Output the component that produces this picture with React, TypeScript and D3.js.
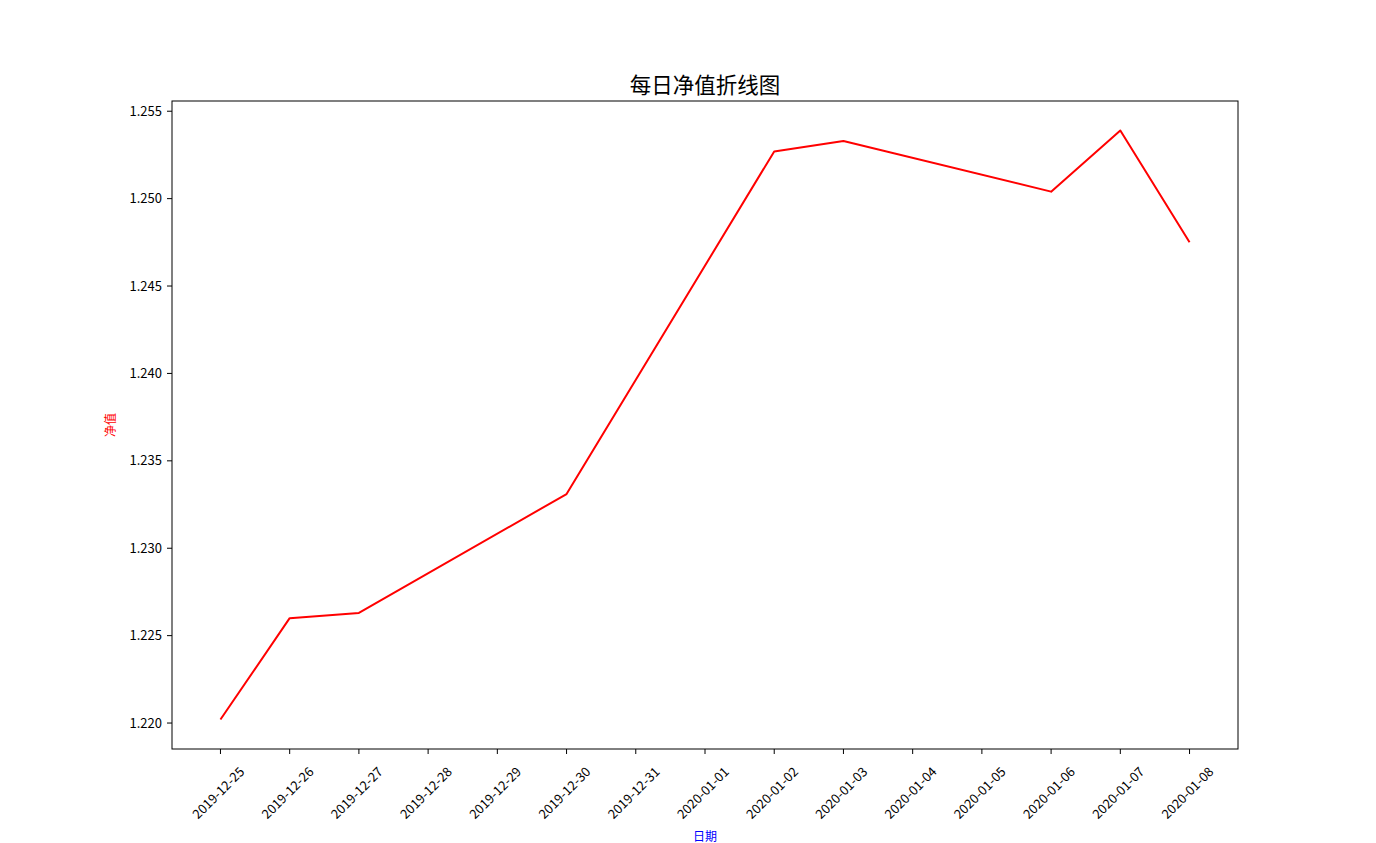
import React from "react";
import * as d3 from "d3";

const dates = ["2019-12-25", "2019-12-26", "2019-12-27", "2019-12-30", "2020-01-02", "2020-01-03", "2020-01-06", "2020-01-07", "2020-01-08"];
const values = [1.2202, 1.2260, 1.2263, 1.2331, 1.2527, 1.2533, 1.2504, 1.2539, 1.2475];
const yTicks = [1.22, 1.225, 1.23, 1.235, 1.24, 1.245, 1.25, 1.255];
const title = "每日净值折线图";
const xLabel = "日期";
const yLabel = "净值";

const W = 1376, H = 843;
const m = { left: 172, right: 1238, top: 101, bottom: 749 };
const FONT = "'Noto Sans CJK SC', 'Noto Sans', sans-serif";

export default function App() {
  const parse = d3.utcParse("%Y-%m-%d");
  const fmt = d3.utcFormat("%Y-%m-%d");
  const pts = dates.map((d, i) => ({ t: parse(d) as Date, v: values[i] }));
  const t0 = pts[0].t, t1 = pts[pts.length - 1].t;
  const span = +t1 - +t0;
  const x = d3.scaleUtc().domain([new Date(+t0 - span * 0.05), new Date(+t1 + span * 0.05)]).range([m.left, m.right]);
  const [vmin, vmax] = d3.extent(values) as [number, number];
  const pad = (vmax - vmin) * 0.05;
  const y = d3.scaleLinear().domain([vmin - pad, vmax + pad]).range([m.bottom, m.top]);
  const xTicks = d3.utcDay.range(t0, d3.utcDay.offset(t1, 1));
  const line = d3.line<{ t: Date; v: number }>().x(d => x(d.t)).y(d => y(d.v));

  return (
    <svg width={W} height={H} style={{ position: "absolute", left: 0, top: 0, background: "#fff" }} fontFamily={FONT}>
      <rect x={0} y={0} width={W} height={H} fill="#fff" />
      <text x={(m.left + m.right) / 2} y={93} textAnchor="middle" fontSize={21.5} fill="#000">{title}</text>
      <path d={line(pts) || ""} fill="none" stroke="#ff0000" strokeWidth={2} strokeLinejoin="round" />
      <rect x={m.left} y={m.top} width={m.right - m.left} height={m.bottom - m.top} fill="none" stroke="#000" strokeWidth={1} />
      {yTicks.map(t => (
        <g key={t}>
          <line x1={m.left - 5} x2={m.left} y1={y(t)} y2={y(t)} stroke="#000" />
          <text x={m.left - 10} y={y(t)} dy="0.35em" textAnchor="end" fontSize={13} fill="#000">{d3.format(".3f")(t)}</text>
        </g>
      ))}
      {xTicks.map(t => (
        <g key={+t}>
          <line x1={x(t)} x2={x(t)} y1={m.bottom} y2={m.bottom + 5} stroke="#000" />
          <text transform={`translate(${x(t) - 2},${793}) rotate(-45)`} textAnchor="middle" dy="0.35em" fontSize={13} fill="#000">{fmt(t)}</text>
        </g>
      ))}
      <text x={(m.left + m.right) / 2} y={837} dy="0.35em" textAnchor="middle" fontSize={12} fill="#0000ff">{xLabel}</text>
      <text transform={`translate(111,${(m.top + m.bottom) / 2}) rotate(-90)`} dy="0.35em" textAnchor="middle" fontSize={12} fill="#ff0000">{yLabel}</text>
    </svg>
  );
}
